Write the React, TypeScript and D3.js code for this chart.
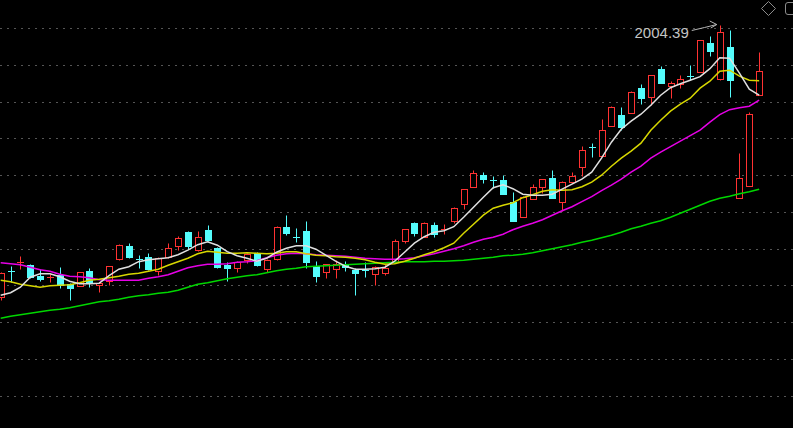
import React from 'react';
import * as d3 from 'd3';

const W = 793;
const H = 428;

// Candle data (price units)
const opens = [
  1460, 1512, 1528, 1524, 1502, 1498, 1504, 1486, 1482, 1512,
  1484, 1492, 1536, 1562, 1536, 1540, 1512, 1540, 1562, 1590,
  1554, 1594, 1558, 1524, 1518, 1534, 1548, 1516, 1536, 1600,
  1580, 1592, 1522, 1510, 1516, 1524, 1514, 1514, 1506, 1508,
  1530, 1572, 1608, 1580, 1604, 1594, 1612, 1646, 1680, 1704,
  1694, 1694, 1650, 1620, 1656, 1680, 1698, 1650, 1690, 1720,
  1760, 1742, 1802, 1824, 1828, 1878, 1860, 1916, 1882, 1886,
  1903, 1910, 1968, 1896, 1960, 1658, 1682, 1864,
];
const closes = [
  1508, 1510, 1530, 1500, 1496, 1500, 1484, 1478, 1510, 1488,
  1488, 1522, 1564, 1540, 1534, 1516, 1538, 1558, 1578, 1562,
  1580, 1574, 1520, 1518, 1530, 1546, 1524, 1534, 1600, 1588,
  1578, 1530, 1502, 1526, 1526, 1520, 1508, 1512, 1520, 1518,
  1572, 1596, 1588, 1608, 1586, 1596, 1638, 1676, 1708, 1696,
  1692, 1666, 1612, 1660, 1680, 1696, 1658, 1690, 1702, 1754,
  1758, 1794, 1840, 1800, 1870, 1858, 1904, 1888, 1888, 1896,
  1901, 1974, 1952, 1990, 1894, 1698, 1826, 1912,
];
const highs = [
  1510, 1522, 1542, 1526, 1516, 1506, 1520, 1488, 1510, 1518,
  1490, 1522, 1566, 1568, 1544, 1548, 1540, 1568, 1582, 1592,
  1592, 1604, 1560, 1530, 1532, 1548, 1550, 1536, 1602, 1624,
  1598, 1612, 1532, 1526, 1534, 1532, 1518, 1530, 1522, 1526,
  1576, 1596, 1610, 1610, 1610, 1606, 1640, 1676, 1714, 1710,
  1702, 1704, 1670, 1662, 1686, 1696, 1714, 1692, 1710, 1762,
  1768, 1816, 1842, 1840, 1872, 1886, 1904, 1922, 1892, 1904,
  1924, 1974, 1982, 2004.39, 1994, 1748, 1830, 1950,
];
const lows = [
  1454, 1490, 1516, 1498, 1492, 1490, 1478, 1454, 1482, 1480,
  1470, 1484, 1534, 1538, 1518, 1514, 1504, 1538, 1554, 1556,
  1552, 1572, 1518, 1492, 1510, 1528, 1522, 1510, 1534, 1584,
  1570, 1518, 1490, 1498, 1498, 1512, 1464, 1500, 1484, 1504,
  1530, 1568, 1582, 1580, 1580, 1586, 1608, 1636, 1680, 1688,
  1678, 1666, 1612, 1620, 1656, 1668, 1658, 1632, 1688, 1702,
  1740, 1742, 1802, 1794, 1828, 1846, 1844, 1888, 1858, 1878,
  1894, 1910, 1942, 1894, 1860, 1658, 1682, 1864,
];

// Moving averages
const ma5 = [
  1464, 1469, 1480, 1500, 1507, 1507, 1501, 1492, 1487, 1487,
  1488, 1503, 1516, 1521, 1531, 1535, 1537, 1539, 1545, 1554,
  1565, 1571, 1564, 1551, 1543, 1538, 1532, 1538, 1550, 1558,
  1563, 1563, 1556, 1544, 1532, 1522, 1516, 1516, 1517, 1520,
  1532, 1550, 1568, 1581, 1590, 1593, 1601, 1620, 1640, 1660,
  1679, 1685, 1677, 1666, 1664, 1664, 1666, 1676, 1686, 1696,
  1710, 1738, 1770, 1796, 1812, 1826, 1844, 1864, 1879, 1887,
  1894, 1901, 1917, 1939, 1938, 1908, 1876, 1864,
];
const ma10 = [
  1494, 1491, 1486, 1483, 1480, 1483, 1484, 1485, 1489, 1494,
  1496, 1499, 1502, 1506, 1508, 1512, 1516, 1524, 1531, 1538,
  1547, 1552, 1550, 1548, 1548, 1549, 1548, 1547, 1548, 1551,
  1551, 1547, 1544, 1543, 1541, 1540, 1538, 1535, 1530, 1526,
  1527, 1532, 1538, 1545, 1551, 1559, 1568, 1588, 1606, 1624,
  1638, 1644, 1649, 1659, 1665, 1672, 1675, 1674, 1675, 1681,
  1690, 1704, 1722, 1738, 1752, 1768, 1794, 1814, 1832, 1846,
  1858, 1878, 1892, 1912, 1914, 1902, 1894, 1893,
];
const ma20 = [
  1529, 1527, 1525, 1520, 1515, 1512, 1506, 1502, 1501, 1499,
  1495, 1494, 1494, 1494, 1494, 1498, 1501, 1505, 1512, 1519,
  1523, 1526, 1526, 1527, 1530, 1531, 1533, 1539, 1544, 1547,
  1548, 1547, 1545, 1544, 1543, 1542, 1540, 1538, 1537, 1536,
  1536, 1537, 1539, 1543, 1547, 1552, 1557, 1563, 1570, 1576,
  1580, 1586, 1595, 1602, 1608, 1615, 1624, 1633, 1641, 1651,
  1661, 1673, 1684, 1696, 1710, 1722, 1738, 1750, 1761, 1772,
  1783, 1794, 1810, 1825, 1835, 1839, 1842, 1854,
];
const ma60 = [
  1418, 1422, 1425, 1428, 1431, 1434, 1436, 1439, 1443, 1447,
  1451, 1453, 1456, 1460, 1463, 1465, 1468, 1470, 1474, 1480,
  1486, 1489, 1493, 1497, 1500, 1503, 1505, 1509, 1513, 1516,
  1518, 1521, 1522, 1523, 1524, 1525, 1526, 1527, 1528, 1529,
  1530, 1531, 1531, 1531, 1532, 1532, 1533, 1534, 1536, 1538,
  1540, 1543, 1544, 1546, 1549, 1553, 1557, 1561, 1565, 1570,
  1574, 1579, 1584, 1590, 1597, 1602, 1608, 1613, 1620, 1628,
  1636, 1644, 1652, 1658, 1662, 1667, 1671, 1676,
];

// Horizontal grid levels
const gridLevels = [1998.4, 1924.9, 1851.3, 1777.8, 1704.3, 1630.8, 1557.2, 1483.7, 1410.2, 1336.7, 1263.1];

// Annotated maximum
const maxIndex = 73;
const maxLabel = '2004.39';

const UP = '#ff3232';
const DOWN = '#54fcfc';

export default function App() {
  const n = opens.length;
  const x = d3.scaleLinear().domain([0, n - 1]).range([0.7, 759.15]);
  const y = d3.scaleLinear().domain([1198.39, 2054.39]).range([H, 0]);
  const cxOf = (i: number) => Math.round(x(i)) + 0.5;
  const ry = (v: number) => Math.round(y(v)) + 0.5;

  const line = d3
    .line<number>()
    .x((_, i) => x(i))
    .y((d) => y(d))
    .curve(d3.curveLinear);

  const candles = opens.map((o, i) => {
    const c = closes[i];
    const h = highs[i];
    const l = lows[i];
    const cx = cxOf(i);
    const up = c >= o;
    const yTop = ry(Math.max(o, c));
    const yBot = ry(Math.min(o, c));
    const yH = ry(h);
    const yL = ry(l);
    const els: React.ReactNode[] = [];
    if (up) {
      if (yBot - yTop < 1.5) {
        els.push(<line key="w" x1={cx} x2={cx} y1={yH} y2={yL} stroke={UP} strokeWidth={1} />);
        els.push(<line key="b" x1={cx - 3.5} x2={cx + 3.5} y1={yTop} y2={yTop} stroke={UP} strokeWidth={1} />);
      } else {
        if (yH < yTop) els.push(<line key="wh" x1={cx} x2={cx} y1={yH} y2={yTop} stroke={UP} strokeWidth={1} />);
        if (yL > yBot) els.push(<line key="wl" x1={cx} x2={cx} y1={yBot} y2={yL} stroke={UP} strokeWidth={1} />);
        els.push(
          <rect key="b" x={cx - 3} y={yTop} width={6} height={yBot - yTop} fill="#000" stroke={UP} strokeWidth={1} />
        );
      }
    } else {
      els.push(<line key="w" x1={cx} x2={cx} y1={yH} y2={yL} stroke={DOWN} strokeWidth={1} />);
      if (yBot - yTop < 1.5) {
        els.push(<line key="b" x1={cx - 3.5} x2={cx + 3.5} y1={yTop} y2={yTop} stroke={DOWN} strokeWidth={1} />);
      } else {
        els.push(
          <rect key="b" x={cx - 3.5} y={yTop - 0.5} width={7} height={yBot - yTop + 1} fill={DOWN} />
        );
      }
    }
    return <g key={i}>{els}</g>;
  });

  const tipX = x(maxIndex) - 3;
  const tipY = y(highs[maxIndex]) - 0.5;
  const startX = tipX - 25;
  const startY = tipY + 6;

  return (
    <svg
      width={W}
      height={H}
      style={{ position: 'fixed', left: 0, top: 0, display: 'block', background: '#000' }}
    >
      <rect x={0} y={0} width={W} height={H} fill="#000" />
      {gridLevels.map((g, i) => (
        <line
          key={i}
          x1={0}
          x2={W}
          y1={ry(g)}
          y2={ry(g)}
          stroke="#555555"
          strokeWidth={1}
          strokeDasharray="2 5"
        />
      ))}
      <g>{candles}</g>
      <path d={line(ma60) || ''} fill="none" stroke="#00d700" strokeWidth={1.5} />
      <path d={line(ma20) || ''} fill="none" stroke="#e600e6" strokeWidth={1.5} />
      <path d={line(ma10) || ''} fill="none" stroke="#d7d700" strokeWidth={1.5} />
      <path d={line(ma5) || ''} fill="none" stroke="#e0e0e0" strokeWidth={1.5} />

      <text
        x={startX - 3}
        y={startY + 7.5}
        textAnchor="end"
        fontFamily="'Liberation Sans', Arial, sans-serif"
        fontSize={15}
        fill="#c4c4c4"
      >
        {maxLabel}
      </text>
      <path
        d={`M${startX},${startY} Q${startX + 13},${startY - 3} ${tipX},${tipY}`}
        fill="none"
        stroke="#b4b4b4"
        strokeWidth={1}
      />
      <path
        d={`M${tipX - 7},${tipY - 3.5} L${tipX},${tipY} L${tipX - 6},${tipY + 3.5}`}
        fill="none"
        stroke="#b4b4b4"
        strokeWidth={1}
      />

      <path d="M768.5,1.5 L775.5,8.5 L768.5,15.5 L761.5,8.5 Z" fill="none" stroke="#8c8c8c" strokeWidth={1} />
      <rect x={785.5} y={2.5} width={14} height={12} rx={2.5} fill="none" stroke="#8c8c8c" strokeWidth={1} />
    </svg>
  );
}
